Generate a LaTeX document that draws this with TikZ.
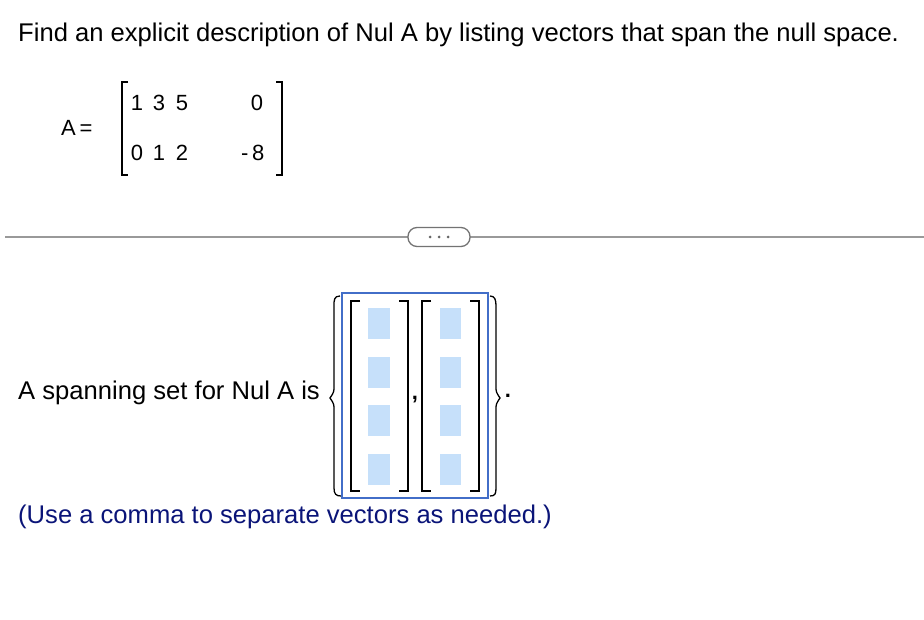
\documentclass[tikz,border=0pt]{standalone}
\usepackage{fontspec}
\setmainfont{Liberation Sans}
\definecolor{cellc}{RGB}{198,224,250}
\definecolor{boxc}{RGB}{66,110,200}
\definecolor{navy}{RGB}{10,20,120}
\begin{document}
\begin{tikzpicture}[x=1pt,y=-1pt,
  txt/.style={inner sep=0pt,anchor=west,font=\fontsize{25.6}{29}\selectfont},
  ent/.style={inner sep=0pt,font=\fontsize{22}{26}\selectfont},
  brk/.style={line width=1.6pt},
  cell/.style={fill=cellc,draw=none}]
\useasboundingbox (0,0) rectangle (924,620);
\node[txt] (title) at (18,35) {Find an explicit description of Nul A by listing vectors that span the null space.};
\node[ent,anchor=west] (Aeq) at (61,128) {A\,=};
\draw[line width=1.2pt] (128,82) -- (122,82) -- (122,175) -- (128,175);
\draw[line width=1.2pt] (276,82) -- (282,82) -- (282,175) -- (276,175);
\node[ent] (a11) at (137,103) {1};
\node[ent] (a12) at (159,103) {3};
\node[ent] (a13) at (182,103) {5};
\node[ent] (a14) at (257,103) {0};
\node[ent] (a21) at (137,153) {0};
\node[ent] (a22) at (159,153) {1};
\node[ent] (a23) at (182,153) {2};
\node[ent] (a24) at (251,153) {\,-\,8};
\draw[gray!80,line width=1.5pt] (5,237) -- (408,237) (470,237) -- (924,237);
\node[draw=gray!90!black,line width=1.3pt,rounded corners=9pt,minimum width=62pt,minimum height=19pt,inner sep=0pt] (pill) at (439,237) {};
\foreach \xx in {430,439,448} \fill[gray!80!black] (\xx,237) circle (1.5pt);
\node[txt] (span) at (18,393) {A spanning set for Nul A is};
\node[txt,text=navy] (note) at (18,517) {(Use a comma to separate vectors as needed.)};
% braces
\draw[line width=1.3pt] (340,296) .. controls (334,296) and (334,300) .. (334,306) -- (334,386) .. controls (334,392) .. (330,398) .. controls (334,404) .. (334,410) -- (334,488) .. controls (334,494) and (336,496) .. (341,496);
\draw[line width=1.3pt] (490,296) .. controls (495,296) and (496,300) .. (496,306) -- (496,386) .. controls (496,392) .. (500,398) .. controls (496,404) .. (496,410) -- (496,488) .. controls (496,494) and (495,496) .. (490,496);
\draw[boxc,line width=1.3pt] (342,293) rectangle (488,498);
% vectors
\draw[brk] (360,301) -- (351,301) -- (351,491) -- (360,491);
\draw[brk] (399,301) -- (408,301) -- (408,491) -- (399,491);
\draw[brk] (431,301) -- (422,301) -- (422,491) -- (431,491);
\draw[brk] (470,301) -- (479,301) -- (479,491) -- (470,491);
\foreach \yy in {308,357,405,454} {
  \fill[cell] (368,\yy) rectangle (390,\yy+31);
  \fill[cell] (440,\yy) rectangle (461,\yy+31);
}
\node[ent] (comma) at (415,400) {\textbf{,}};
\node[ent] (period) at (508,396) {\textbf{.}};
\end{tikzpicture}
\end{document}
